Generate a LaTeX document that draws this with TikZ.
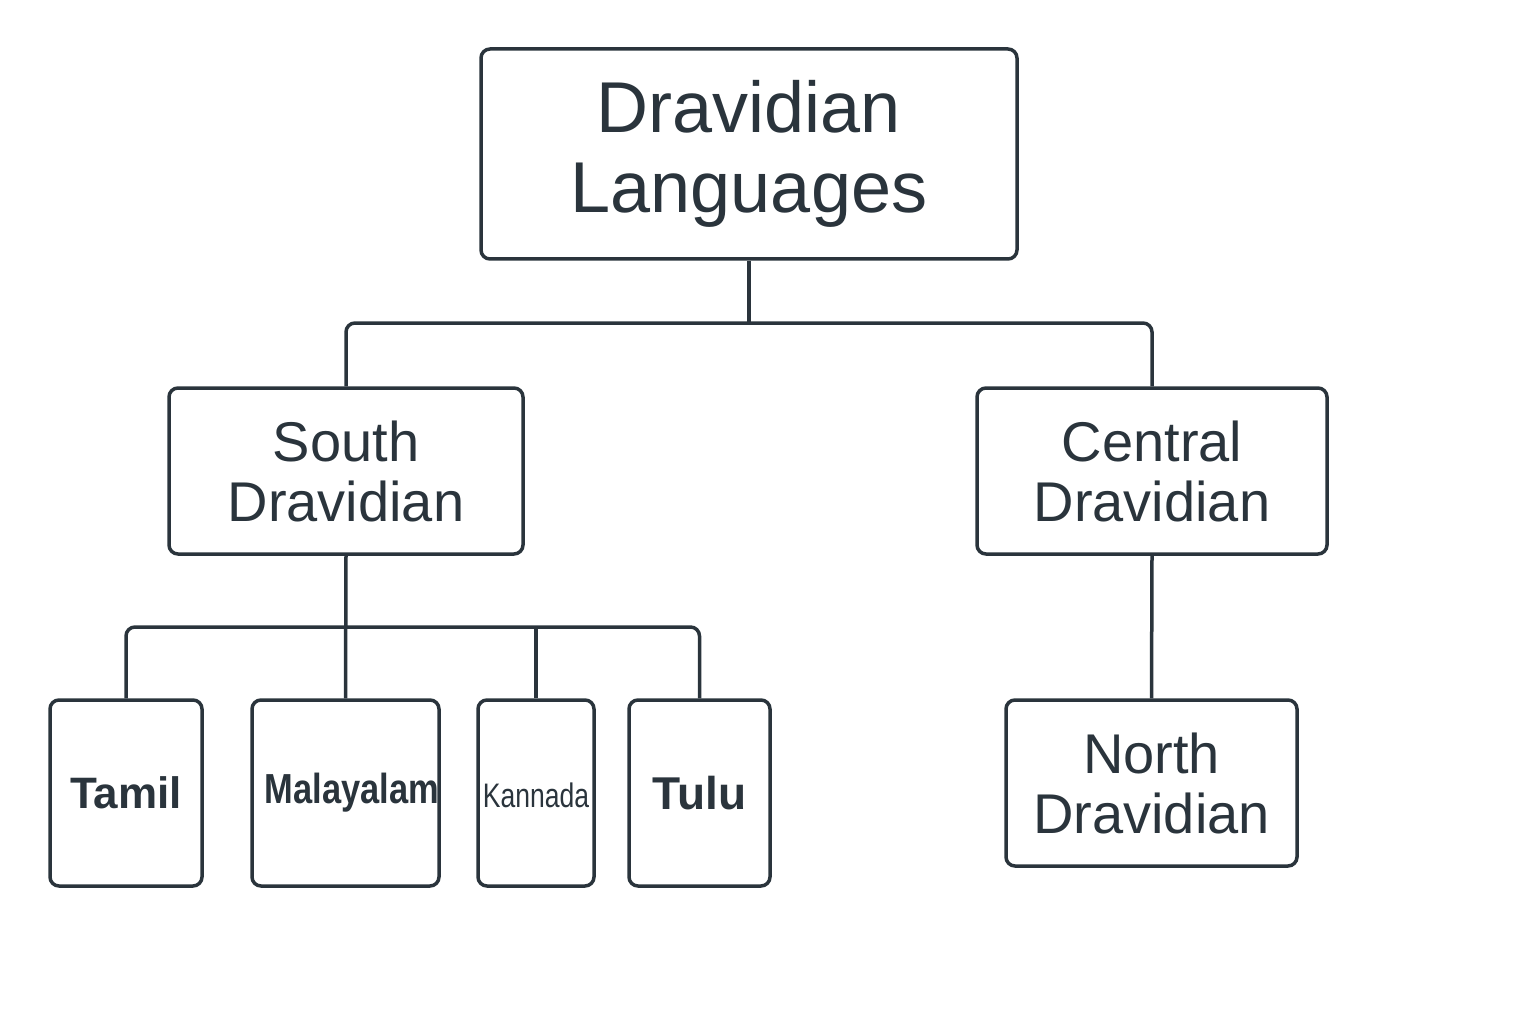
\documentclass[tikz,border=0pt]{standalone}
\usepackage{fontspec}
\setmainfont{Liberation Sans}
\definecolor{ink}{HTML}{2A343C}
\begin{document}
\begin{tikzpicture}[x=1pt,y=-1pt,
  box/.style={draw=ink,line width=3.5pt,rounded corners=9pt,text=ink,align=center,inner sep=0pt},
  conn/.style={draw=ink,line width=3.5pt,rounded corners=9pt}]
\useasboundingbox (0,0) rectangle (1536,1024);
\node[box,minimum width=536pt,minimum height=210pt,font=\fontsize{72}{80}\selectfont] (top) at (749,154) {Dravidian\\Languages};
\node[box,minimum width=354pt,minimum height=166pt,font=\fontsize{56}{60}\selectfont] (south) at (346,471) {South\\Dravidian};
\node[box,minimum width=350pt,minimum height=166pt,font=\fontsize{56}{60}\selectfont] (central) at (1152,471) {Central\\Dravidian};
\node[box,minimum width=152pt,minimum height=186pt,font=\fontsize{44}{48}\selectfont\bfseries] (tamil) at (126,793) {Tamil};
\node[box,minimum width=187pt,minimum height=186pt] (mal) at (345.5,793) {};
\node[text=ink,font=\fontsize{42}{48}\selectfont\bfseries] (maltext) at (352,793) {\scalebox{0.82}[1]{Malayalam}};
\node[box,minimum width=116pt,minimum height=186pt] (kan) at (536,793) {};
\node[text=ink,font=\fontsize{34}{40}\selectfont] (kantext) at (536,795) {\scalebox{0.78}[1]{Kannada}};
\node[box,minimum width=141pt,minimum height=186pt,font=\fontsize{46}{50}\selectfont\bfseries] (tulu) at (699.5,793) {Tulu};
\node[box,minimum width=291pt,minimum height=166pt,font=\fontsize{56}{60}\selectfont] (north) at (1151.5,783) {North\\Dravidian};
\coordinate (j1) at (749,323);
\coordinate (j2) at (346,627);
\draw[conn] (top.south) -- (j1);
\draw[conn] (south.north) |- (j1) -| (central.north);
\draw[conn] (south.south) -- (mal.north);
\draw[conn] (tamil.north) |- (j2) -| (tulu.north);
\draw[conn] (kan.north) -- (kan.north |- j2);
\draw[conn] (central.south) -- (north.north);
\end{tikzpicture}
\end{document}
